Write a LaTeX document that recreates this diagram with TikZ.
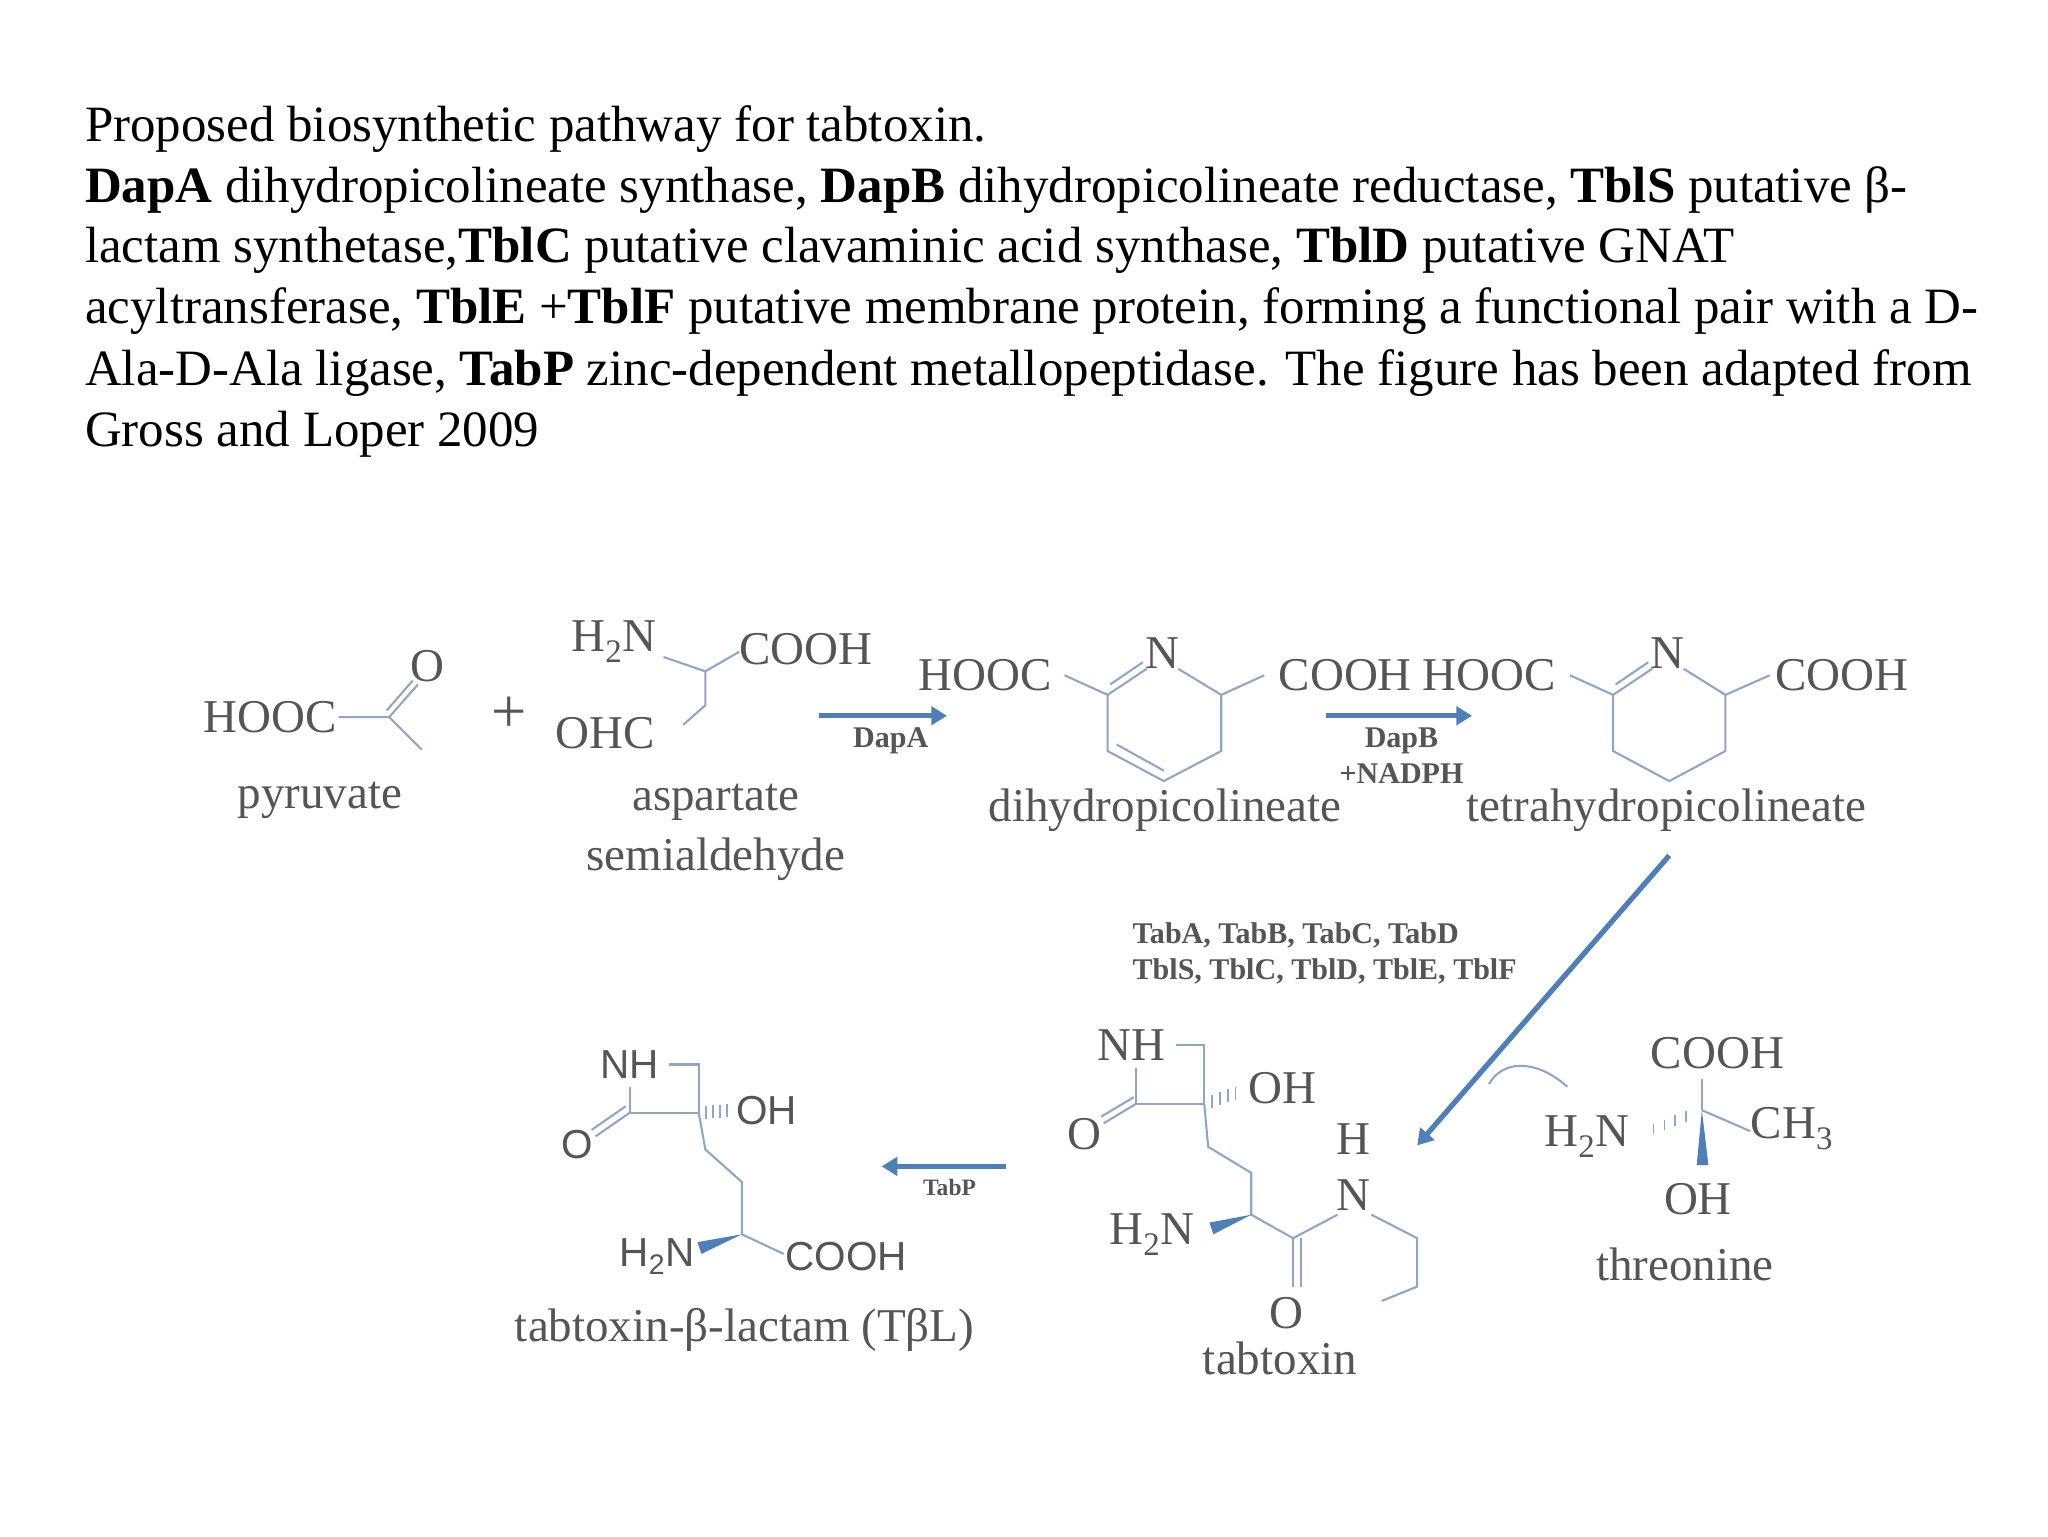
\documentclass[tikz,border=0pt]{standalone}
\usepackage{fontspec}
\setmainfont{Liberation Serif}
\setsansfont{Liberation Sans}
\usetikzlibrary{arrows.meta,calc}
\definecolor{chem}{HTML}{555555}
\definecolor{bond}{HTML}{8FA6C4}
\definecolor{arr}{HTML}{4F7FB8}
\tikzset{
 head/.style={anchor=base west,inner sep=0,font=\fontsize{39}{44}\selectfont},
 ct/.style={inner sep=1pt,text=chem,font=\fontsize{36}{40}\selectfont},
 cs/.style={inner sep=1pt,text=chem,font=\sffamily\fontsize{31}{34}\selectfont},
 sm/.style={inner sep=1pt,text=chem,font=\bfseries\fontsize{23}{26}\selectfont},
 bd/.style={draw=bond,line width=1.6pt},
 rx/.style={draw=arr,line width=4pt,-{Triangle[length=12pt,width=14pt]}}
}
\begin{document}
\begin{tikzpicture}[x=1pt,y=-1pt]
\useasboundingbox (0,0) rectangle (1568,1176);
% heading
\node[head] (h1) at (65,108) {Proposed biosynthetic pathway for tabtoxin.};
\node[head] (h2) at (65,155) { \textbf{DapA} dihydropicolineate synthase, \textbf{DapB} dihydropicolineate reductase, \textbf{TblS} putative β-};
\node[head] (h3) at (65,201) {lactam synthetase,\textbf{TblC} putative clavaminic acid synthase, \textbf{TblD} putative GNAT};
\node[head] (h4) at (65,248) {acyltransferase, \textbf{TblE} +\textbf{TblF} putative membrane protein, forming a functional pair with a D-};
\node[head] (h5) at (65,295) {Ala-D-Ala ligase, \textbf{TabP} zinc-dependent metallopeptidase. The figure has been adapted from};
\node[head] (h6) at (65,342) {Gross and Loper 2009};
% pyruvate
\node[ct] (pyh) at (207,549) {HOOC};
\node[ct] (pyo) at (327,510) {O};
\draw[bd] (pyh.east) -- (298,549) -- (323,574);
\draw[bd] (298,549) -- (320,524);
\draw[bd] (296,544) -- (316,521);
\node[ct,font=\fontsize{48}{48}\selectfont] (plus) at (390,547) {+};
\node[ct] (pyl) at (245,613) {pyruvate};
% aspartate semialdehyde
\node[ct] (asn) at (470,491) {H\textsubscript{2}N};
\node[ct] (asc) at (617,497) {COOH};
\node[ct] (aso) at (463,561) {OHC};
\draw[bd] (508,503) -- (540,514) -- (566,499);
\draw[bd] (540,514) -- (540,540) -- (523,555);
\node[ct] (asl1) at (548,614) {aspartate};
\node[ct] (asl2) at (548,658) {semialdehyde};
% DapA
\coordinate (a1s) at (627,548); \coordinate (a1e) at (725,548);
\draw[rx] (a1s) -- (a1e);
\node[sm] (a1l) at (682,567) {DapA};
% dihydropicolineate
\node[ct] (dhl) at (754,517) {HOOC};
\node[ct] (dhn) at (890,500) {N};
\node[ct] (dhr) at (1030,517) {COOH};
\draw[bd] (815,517) -- (848,532) -- (878,512);
\draw[bd] (850,524) -- (875,507);
\draw[bd] (902,512) -- (935,532) -- (968,517);
\draw[bd] (848,532) -- (848,575) -- (891,598) -- (935,575) -- (935,532);
\draw[bd] (855,570) -- (891,590);
\node[ct] (dhlab) at (892,620) {dihydropicolineate};
% DapB
\coordinate (a2s) at (1015,548); \coordinate (a2e) at (1127,548);
\draw[rx] (a2s) -- (a2e);
\node[sm] (a2l) at (1073,567) {DapB};
\node[sm] (a2m) at (1073,592) {+NADPH};
% tetrahydropicolineate
\node[ct] (thl) at (1140,517) {HOOC};
\node[ct] (thn) at (1277,500) {N};
\node[ct] (thr) at (1410,517) {COOH};
\draw[bd] (1202,517) -- (1235,532) -- (1265,512);
\draw[bd] (1237,524) -- (1262,507);
\draw[bd] (1289,512) -- (1321,532) -- (1355,517);
\draw[bd] (1235,532) -- (1235,575) -- (1278,598) -- (1321,575) -- (1321,532);
\node[ct] (thlab) at (1276,620) {tetrahydropicolineate};
% big arrow
\coordinate (b1) at (1278,655); \coordinate (b2) at (1085,877);
\draw[rx] (b1) -- (b2);
\node[sm,anchor=west] (en1) at (866,716) {TabA, TabB, TabC, TabD};
\node[sm,anchor=west] (en2) at (866,744) {TblS, TblC, TblD, TblE, TblF};
% threonine
\node[ct] (thc) at (1315,806) {COOH};
\node[ct] (thh) at (1215,870) {H\textsubscript{2}N};
\node[ct] (thm) at (1372,864) {CH\textsubscript{3}};
\node[ct] (tho) at (1300,918) {OH};
\node[ct] (thlb) at (1290,968) {threonine};
\draw[bd] (1303,826) -- (1303,850);
\draw[bd] (1303,850) -- (1340,866);
\foreach \t in {0.3,0.5,0.7,0.9} \draw[bond,line width=1.2pt] ($(1303,850)!\t!(1262,866)$) ++(0,-4) -- ++(0,8);
\fill[arr] (1303,850) -- (1299,892) -- (1308,892) -- cycle;
\draw[draw=bond,line width=1.6pt] (1200,832) .. controls (1175,810) and (1150,812) .. (1140,830);
% tabtoxin
\node[ct] (tnh) at (866,800) {NH};
\node[ct] (too) at (830,868) {O};
\node[ct] (toh) at (982,833) {OH};
\node[ct] (tnh2) at (882,945) {H\textsubscript{2}N};
\node[ct] (tnH) at (1036,872) {H};
\node[ct] (tnN) at (1036,915) {N};
\node[ct] (too2) at (985,1005) {O};
\node[ct] (tlab) at (980,1040) {tabtoxin};
\draw[bd] (900,800) -- (922,800) -- (922,845) -- (870,845) -- (870,818);
\draw[bd] (870,845) -- (845,860);
\draw[bd] (868,840) -- (843,855);
\foreach \t in {0.2,0.4,0.6,0.8} \draw[bond,line width=1.2pt] ($(922,845)!\t!(952,835)$) ++(0,-5) -- ++(0,10);
\draw[bd] (922,845) -- (925,878) -- (958,898) -- (958,930) -- (990,948) -- (1024,930);
\fill[arr] (958,930) -- (926,936) -- (929,945) -- cycle;
\draw[bd] (990,948) -- (990,985); \draw[bd] (996,948) -- (996,985);
\draw[bd] (1050,930) -- (1085,948) -- (1085,985) -- (1058,996);
% TabP
\coordinate (a3s) at (770,893); \coordinate (a3e) at (675,893);
\draw[rx] (a3s) -- (a3e);
\node[sm,font=\bfseries\fontsize{18}{20}\selectfont] (a3l) at (727,909) {TabP};
% TbetaL
\node[cs] (bnh) at (482,815) {NH};
\node[cs] (bo) at (442,876) {O};
\node[cs] (boh) at (587,850) {OH};
\node[cs] (bnh2) at (503,962) {H\textsubscript{2}N};
\node[cs] (bco) at (648,962) {COOH};
\node[ct] (blab) at (570,1018) {tabtoxin-β-lactam (TβL)};
\draw[bd] (512,815) -- (535,815) -- (535,852) -- (482,852) -- (482,832);
\draw[bd] (482,852) -- (456,870); \draw[bd] (479,847) -- (453,865);
\foreach \t in {0.2,0.4,0.6,0.8} \draw[bond,line width=1.2pt] ($(535,852)!\t!(562,850)$) ++(0,-5) -- ++(0,10);
\draw[bd] (535,852) -- (540,880) -- (568,905) -- (568,945) -- (600,960);
\fill[arr] (568,945) -- (534,951) -- (537,960) -- cycle;
\end{tikzpicture}
\end{document}
